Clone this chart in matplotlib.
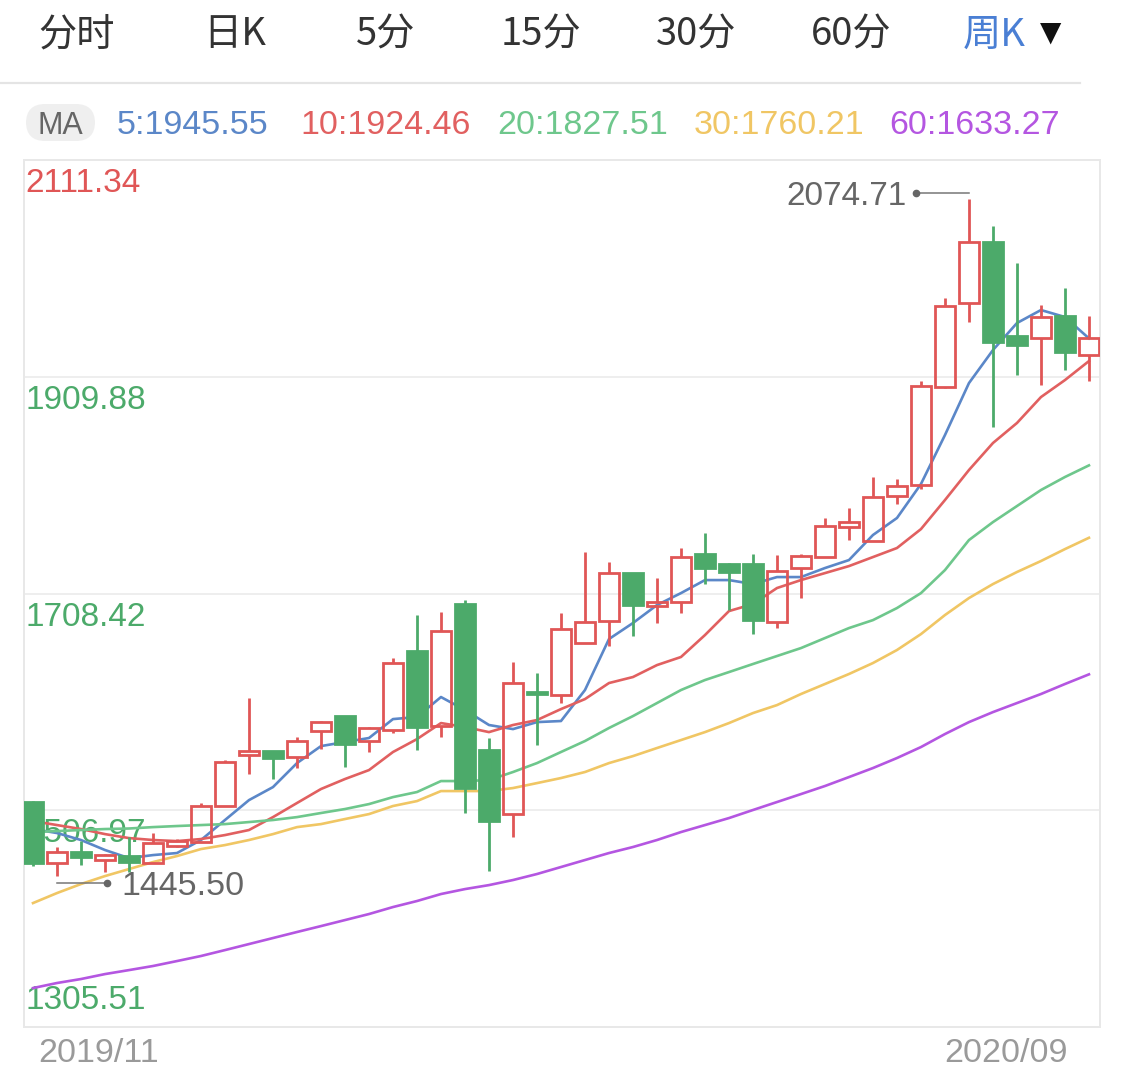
import numpy as np
import matplotlib
matplotlib.use("Agg")
import matplotlib.pyplot as plt
from matplotlib.patches import Rectangle, FancyBboxPatch
from matplotlib.transforms import offset_copy, blended_transform_factory

# ---------------- data ----------------
tabs = ["分时", "日K", "5分", "15分", "30分", "60分", "周K"]
active_tab = "周K"
date_labels = ["2019/11", "2020/09"]
y_ticks = [2111.34, 1909.88, 1708.42, 1506.97, 1305.51]
ma_periods = [5, 10, 20, 30, 60]

opens = [1514.6, 1457.9, 1467.7, 1460.6, 1464.7, 1458.2, 1474.0, 1477.7, 1510.9, 1558.6,
         1562.0, 1556.7, 1580.9, 1594.6, 1571.6, 1581.5, 1655.2, 1585.2, 1698.6, 1562.9,
         1503.1, 1617.1, 1614.1, 1662.7, 1682.8, 1727.2, 1696.8, 1700.2, 1745.1, 1735.6,
         1735.6, 1682.2, 1732.4, 1742.6, 1769.9, 1757.5, 1799.0, 1809.3, 1900.3, 1978.1,
         2035.4, 1947.8, 1945.6, 1966.6, 1930.1]
highs = [1515.5, 1472.6, 1478.3, 1466.0, 1482.3, 1486.1, 1480.5, 1514.0, 1553.6, 1611.0,
         1562.5, 1575.3, 1589.9, 1595.0, 1584.3, 1648.2, 1688.4, 1691.5, 1702.4, 1574.4,
         1645.0, 1634.8, 1690.0, 1746.7, 1738.0, 1727.8, 1722.5, 1751.0, 1764.4, 1737.0,
         1744.9, 1744.2, 1744.9, 1778.9, 1788.2, 1817.0, 1814.6, 1906.2, 1982.8, 2074.71,
         2050.0, 2015.3, 1976.6, 1992.6, 1966.3]
lows = [1455.0, 1445.50, 1455.9, 1449.7, 1449.8, 1458.0, 1472.5, 1477.4, 1510.5, 1540.4,
        1535.7, 1546.5, 1563.6, 1547.4, 1561.4, 1578.4, 1562.9, 1575.3, 1504.7, 1450.8,
        1481.8, 1567.6, 1606.9, 1662.0, 1659.7, 1668.9, 1680.7, 1690.0, 1717.3, 1693.1,
        1670.5, 1676.0, 1703.9, 1742.0, 1758.1, 1757.0, 1791.6, 1805.3, 1899.8, 1961.0,
        1862.9, 1911.5, 1902.2, 1916.1, 1906.2]
closes = [1457.9, 1468.1, 1463.5, 1465.2, 1459.1, 1476.2, 1478.4, 1511.2, 1552.1, 1562.3,
          1555.8, 1571.3, 1589.2, 1568.5, 1583.7, 1643.5, 1584.6, 1673.8, 1527.3, 1497.2,
          1625.5, 1614.7, 1675.2, 1682.2, 1727.7, 1697.7, 1700.8, 1742.0, 1731.8, 1728.1,
          1683.8, 1729.6, 1743.5, 1771.1, 1774.6, 1797.8, 1808.6, 1901.0, 1975.6, 2035.4,
          1942.5, 1939.4, 1965.1, 1932.6, 1946.2]

ma5 = [1489.5, 1485.8, 1479.3, 1470.0, 1462.5, 1465.3, 1467.2, 1479.3, 1497.9, 1516.4,
       1528.5, 1550.8, 1566.6, 1570.4, 1574.1, 1591.7, 1593.6, 1612.2, 1600.1, 1586.2,
       1582.4, 1588.9, 1589.9, 1618.7, 1666.1, 1681.0, 1697.7, 1708.8, 1720.9, 1720.9,
       1717.2, 1723.7, 1723.7, 1732.1, 1739.5, 1762.8, 1778.6, 1810.2, 1855.7, 1904.0,
       1934.7, 1959.8, 1971.9, 1965.4, 1945.55]
ma10 = [1496.9, 1493.2, 1489.5, 1484.8, 1481.1, 1479.3, 1478.3, 1480.2, 1483.9, 1488.6,
        1500.6, 1513.7, 1526.7, 1536.0, 1544.3, 1561.1, 1573.1, 1588.0, 1584.3, 1579.6,
        1586.2, 1590.8, 1601.0, 1610.3, 1625.2, 1630.8, 1641.9, 1649.4, 1669.8, 1692.1,
        1698.6, 1713.5, 1720.9, 1727.4, 1733.9, 1742.3, 1750.7, 1768.3, 1795.3, 1823.2,
        1848.3, 1866.9, 1891.0, 1906.8, 1924.46]
ma20 = [1486.7, 1487.6, 1488.6, 1489.5, 1490.0, 1491.3, 1492.3, 1493.2, 1494.1, 1496.0,
        1497.9, 1500.6, 1504.4, 1508.1, 1512.7, 1519.2, 1523.9, 1534.1, 1534.1, 1535.0,
        1542.5, 1550.8, 1561.1, 1571.3, 1583.4, 1594.5, 1606.6, 1618.7, 1628.0, 1635.4,
        1642.9, 1650.3, 1657.7, 1667.0, 1676.3, 1683.7, 1694.9, 1708.8, 1730.2, 1758.1,
        1774.8, 1789.7, 1804.6, 1816.7, 1827.51]
ma30 = [1420.7, 1430.0, 1438.4, 1445.8, 1452.3, 1458.8, 1464.4, 1470.9, 1474.6, 1479.3,
        1484.8, 1491.3, 1494.1, 1498.8, 1503.4, 1510.9, 1515.5, 1524.8, 1524.8, 1524.8,
        1527.6, 1532.2, 1536.9, 1542.5, 1550.8, 1557.3, 1564.8, 1572.2, 1579.6, 1588.0,
        1597.3, 1604.7, 1615.0, 1624.3, 1633.6, 1643.8, 1655.9, 1670.7, 1688.4, 1704.2,
        1717.2, 1728.4, 1738.6, 1749.7, 1760.21]
ma60 = [1341.7, 1346.4, 1350.1, 1354.7, 1358.4, 1362.2, 1366.8, 1371.5, 1377.0, 1382.6,
        1388.2, 1393.8, 1399.3, 1404.9, 1410.5, 1417.0, 1422.6, 1429.1, 1433.7, 1437.4,
        1442.1, 1447.7, 1454.2, 1460.7, 1467.2, 1472.8, 1479.3, 1486.7, 1493.2, 1499.7,
        1507.2, 1514.6, 1522.0, 1529.5, 1537.8, 1546.2, 1555.5, 1565.7, 1577.8, 1588.9,
        1598.2, 1606.6, 1615.0, 1624.3, 1633.27]

# ---------------- style ----------------
RED = "#e05656"
GREEN = "#4caa6a"
MA_COLORS = ["#5b87c8", "#e16060", "#6ec78c", "#f0c664", "#b456e1"]
NUM_FONT = "Liberation Sans"
CJK = ["Noto Sans CJK SC", "DejaVu Sans"]

W, H = 1125, 1079
fig = plt.figure(figsize=(W / 100, H / 100), dpi=100)
fig.patch.set_facecolor("white")


def fx(px):
    return px / W


def fy(py):
    return 1 - py / H


# ---------------- tab bar ----------------
tab_x = [77, 235, 386, 541, 696, 851, 994]
for t, xc in zip(tabs, tab_x):
    col = "#4a7fd4" if t == active_tab else "#333333"
    fig.text(fx(xc), fy(35), t, ha="center", va="center", fontsize=27.5,
             family=CJK, color=col)
fig.text(fx(1051), fy(33), "▼", ha="center", va="center", fontsize=20,
         family=["DejaVu Sans"], color="#111111")
fig.add_artist(plt.Line2D([0, fx(1080)], [fy(83), fy(83)], color="#e4e4e4", lw=1.6))

# ---------------- MA legend ----------------
pill = FancyBboxPatch((fx(26), fy(141)), fx(69), 37 / H,
                      boxstyle="round,pad=0,rounding_size=0.017",
                      transform=fig.transFigure, facecolor="#efefef",
                      edgecolor="none", mutation_aspect=W / H)
fig.add_artist(pill)
fig.text(fx(60), fy(134), "MA", ha="center", va="baseline", fontsize=22,
         family=NUM_FONT, color="#666666")
legend_x = [117, 300, 497, 694, 889]
ma_series = [ma5, ma10, ma20, ma30, ma60]
for p, s, c, lx in zip(ma_periods, ma_series, MA_COLORS, legend_x):
    fig.text(fx(lx), fy(134), f"{p}:{s[-1]:.2f}", ha="left", va="baseline",
             fontsize=24.5, family=NUM_FONT, color=c)

# ---------------- main axes ----------------
ax = fig.add_axes([fx(24), fy(1027), (1100 - 24) / W, (1027 - 160) / H])
n = len(closes)
xs = np.arange(n)
ax.set_xlim(-0.375, n - 1 + 0.46)
ax.set_ylim(min(y_ticks), max(y_ticks))
ax.set_yticks(y_ticks)
ax.set_xticks([])
ax.tick_params(length=0, labelleft=False)
ax.grid(axis="y", color="#eeeeee", lw=1.4, zorder=0)
for sp in ax.spines.values():
    sp.set_color("#e8e8e8")
    sp.set_linewidth(1.4)

# y labels inside
btrans = blended_transform_factory(ax.transAxes, ax.transData)
for k, v in enumerate(y_ticks):
    col = RED if k == 0 else GREEN
    if k == len(y_ticks) - 1:
        tr = offset_copy(btrans, fig, x=1, y=18, units="dots")
    else:
        tr = offset_copy(btrans, fig, x=1, y=-32, units="dots")
    ax.text(0, v, f"{v:.2f}", transform=tr, ha="left", va="baseline",
            fontsize=24, family=NUM_FONT, color=col, zorder=1)

# MA lines
for s, c in zip(ma_series, MA_COLORS):
    ax.plot(xs, s, color=c, lw=1.9, zorder=3, solid_joinstyle="round")

# candles
bw = 0.82
for i in range(n):
    o, h, l, c = opens[i], highs[i], lows[i], closes[i]
    up = c >= o
    col = RED if up else GREEN
    top, bot = max(o, c), min(o, c)
    ax.vlines(i, top, h, color=col, lw=2.0, zorder=4)
    ax.vlines(i, l, bot, color=col, lw=2.0, zorder=4)
    rect = Rectangle((i - bw / 2, bot), bw, max(top - bot, 0.6),
                     facecolor="none" if up else col, edgecolor=col,
                     lw=2.0, zorder=5)
    ax.add_patch(rect)

# high / low annotations
imax = int(np.argmax(highs))
imin = int(np.argmin(lows))
ann_col = "#666666"
tr_hi = offset_copy(ax.transData, fig, x=0, y=6, units="dots")
x_dot_hi = imax - 2.2
ax.plot([x_dot_hi, imax], [highs[imax]] * 2, color="#777777", lw=1.1,
        transform=tr_hi, zorder=6)
ax.plot([x_dot_hi], [highs[imax]], "o", color="#666666", ms=4.5,
        transform=tr_hi, zorder=6)
ax.text(x_dot_hi, highs[imax], f"{highs[imax]:.2f}",
        transform=offset_copy(ax.transData, fig, x=-10, y=6, units="dots"),
        ha="right", va="center_baseline", fontsize=24, family=NUM_FONT,
        color=ann_col, zorder=6)

tr_lo = offset_copy(ax.transData, fig, x=0, y=-7, units="dots")
x_dot_lo = imin + 2.08
ax.plot([imin, x_dot_lo], [lows[imin]] * 2, color="#777777", lw=1.1,
        transform=tr_lo, zorder=6)
ax.plot([x_dot_lo], [lows[imin]], "o", color="#666666", ms=4.5,
        transform=tr_lo, zorder=6)
ax.text(x_dot_lo, lows[imin], f"{lows[imin]:.2f}",
        transform=offset_copy(ax.transData, fig, x=14, y=-7, units="dots"),
        ha="left", va="center_baseline", fontsize=24.5, family=NUM_FONT,
        color=ann_col, zorder=6)

# date labels
fig.text(fx(38), fy(1062), date_labels[0], ha="left", va="baseline",
         fontsize=24.5, family=NUM_FONT, color="#9a9a9a")
fig.text(fx(1068), fy(1062), date_labels[1], ha="right", va="baseline",
         fontsize=24.5, family=NUM_FONT, color="#9a9a9a")

fig.savefig("out.png", dpi=100, facecolor="white")
